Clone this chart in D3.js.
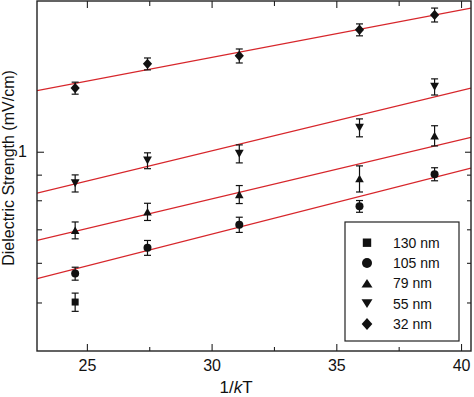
<!DOCTYPE html>
<html>
<head>
<meta charset="utf-8">
<script src="https://cdn.jsdelivr.net/npm/d3@7"></script>
<style>
  body { margin: 0; background: #fff; }
  svg { display: block; }
  text { font-family: Arial, "Liberation Sans", sans-serif; fill: #111; }
</style>
</head>
<body>
<script>
// 1/kT for 473, 423, 373, 323, 298 K
const xVals = [24.53, 27.43, 31.11, 35.93, 38.94];

// dielectric strength (mV/cm), null = not measured
const nm130 = [0.501, null, null, null, null];
const nm105 = [0.571, 0.643, 0.715, 0.778, 0.902];
const nm79  = [0.697, 0.759, 0.822, 0.884, 1.077];
const nm55  = [0.865, 0.960, 0.991, 1.117, 1.348];
const nm32  = [1.340, 1.498, 1.554, 1.752, 1.876];

// error bars (same units)
const err130 = [0.021, null, null, null, null];
const err105 = [0.017, 0.022, 0.025, 0.021, 0.027];
const err79  = [0.027, 0.030, 0.034, 0.053, 0.050];
const err55  = [0.034, 0.035, 0.041, 0.046, 0.050];
const err32  = [0.037, 0.041, 0.050, 0.048, 0.060];

// Arrhenius fits: v = A * exp(B * x)
const fitA = [null, 0.285, 0.356, 0.436, 0.802];
const fitB = [null, 0.0292, 0.0272, 0.0278, 0.0218];

const labels = ["130 nm", "105 nm", "79 nm", "55 nm", "32 nm"];
const xTicks = [25, 30, 35, 40];
const xMinor = [27.5, 32.5, 37.5];
const yTicks = [1];
const yMinor = [0.5, 0.6, 0.7, 0.8, 0.9];

const width = 474, height = 397;
const margin = { top: 1, bottom: 46, left: 37, right: 3 };

const svg = d3.select("body").append("svg")
  .attr("width", width)
  .attr("height", height);

const xScale = d3.scaleLinear()
  .domain([23, 40.4])
  .range([margin.left, width - margin.right]);

const yScale = d3.scaleLog()
  .domain([0.4, 2])
  .range([height - margin.bottom, margin.top]);

// custom marker shapes (half width / half height in px)
function diamond(w, h) {
  return { draw(c) { c.moveTo(0, -h); c.lineTo(w, 0); c.lineTo(0, h); c.lineTo(-w, 0); c.closePath(); } };
}
function tri(w, h, down) {
  const s = down ? -1 : 1;
  return { draw(c) { c.moveTo(0, -h * s); c.lineTo(w, h * s); c.lineTo(-w, h * s); c.closePath(); } };
}
function square(a) {
  return { draw(c) { c.rect(-a, -a, 2 * a, 2 * a); } };
}
function circle(r) {
  return { draw(c) { c.moveTo(r, 0); c.arc(0, 0, r, 0, 2 * Math.PI); } };
}

const shapes = [square(3.5), circle(4), tri(4.3, 3.8, false), tri(4.4, 4, true), diamond(4.6, 5.2)];
const legendShapes = [square(4.2), circle(5), tri(5.5, 4.2, false), tri(5.5, 4.4, true), diamond(5.3, 6)];

const values = [nm130, nm105, nm79, nm55, nm32];
const errors = [err130, err105, err79, err55, err32];

// clip for the fit lines
svg.append("clipPath").attr("id", "plot")
  .append("rect")
  .attr("x", margin.left).attr("y", margin.top)
  .attr("width", width - margin.left - margin.right)
  .attr("height", height - margin.top - margin.bottom);

// fit lines
const line = d3.line().x(d => xScale(d[0])).y(d => yScale(d[1]));
fitA.forEach(function(A, i) {
  if (A === null) return;
  const pts = xScale.domain().map(x => [x, A * Math.exp(fitB[i] * x)]);
  svg.append("path")
    .attr("clip-path", "url(#plot)")
    .attr("d", line(pts))
    .attr("fill", "none")
    .attr("stroke", "#d7262b")
    .attr("stroke-width", 1.3);
});

// error bars and markers
values.forEach(function(vals, i) {
  const pts = xVals.map((x, j) => ({ x: x, v: vals[j], e: errors[i][j] })).filter(d => d.v !== null);
  const g = svg.append("g");
  pts.forEach(function(d) {
    const cx = xScale(d.x);
    const y1 = yScale(d.v + d.e), y2 = yScale(d.v - d.e);
    g.append("line").attr("x1", cx).attr("x2", cx).attr("y1", y1).attr("y2", y2);
    g.append("line").attr("x1", cx - 3.5).attr("x2", cx + 3.5).attr("y1", y1).attr("y2", y1);
    g.append("line").attr("x1", cx - 3.5).attr("x2", cx + 3.5).attr("y1", y2).attr("y2", y2);
  });
  g.selectAll("line").attr("stroke", "#111").attr("stroke-width", 1.2);
  g.selectAll("path")
    .data(pts)
    .enter()
    .append("path")
    .attr("transform", d => `translate(${xScale(d.x)},${yScale(d.v)})`)
    .attr("d", d3.symbol().type(shapes[i]))
    .attr("fill", "#111");
});

// axes (ticks pointing inward)
const bottom = height - margin.bottom;
const right = width - margin.right;

svg.append("g")
  .attr("transform", `translate(0,${bottom})`)
  .call(d3.axisBottom(xScale).tickValues(xTicks).tickSizeInner(-7).tickSizeOuter(0).tickPadding(9));
svg.append("g")
  .attr("transform", `translate(0,${bottom})`)
  .call(d3.axisBottom(xScale).tickValues(xMinor).tickSizeInner(-4).tickSizeOuter(0).tickFormat(""));
svg.append("g")
  .attr("transform", `translate(0,${margin.top})`)
  .call(d3.axisTop(xScale).tickValues(xTicks).tickSizeInner(-7).tickSizeOuter(0).tickFormat(""));
svg.append("g")
  .attr("transform", `translate(0,${margin.top})`)
  .call(d3.axisTop(xScale).tickValues(xMinor).tickSizeInner(-5).tickSizeOuter(0).tickFormat(""));

svg.append("g")
  .attr("transform", `translate(${margin.left},0)`)
  .call(d3.axisLeft(yScale).tickValues(yTicks).tickSizeInner(-7).tickSizeOuter(0).tickPadding(10).tickFormat(d3.format("d")));
svg.append("g")
  .attr("transform", `translate(${margin.left},0)`)
  .call(d3.axisLeft(yScale).tickValues(yMinor).tickSizeInner(-5).tickSizeOuter(0).tickFormat(""));
svg.append("g")
  .attr("transform", `translate(${right},0)`)
  .call(d3.axisRight(yScale).tickValues(yTicks).tickSizeInner(-6).tickSizeOuter(0).tickFormat(""));
svg.append("g")
  .attr("transform", `translate(${right},0)`)
  .call(d3.axisRight(yScale).tickValues(yMinor).tickSizeInner(-4).tickSizeOuter(0).tickFormat(""));

svg.selectAll(".domain").remove();
svg.selectAll(".tick line").attr("stroke", "#222").attr("stroke-width", 1.1);
svg.selectAll(".tick text").style("font-size", "16px").attr("fill", "#111");

// frame
svg.append("rect")
  .attr("x", margin.left).attr("y", margin.top)
  .attr("width", right - margin.left)
  .attr("height", bottom - margin.top)
  .attr("fill", "none")
  .attr("stroke", "#222")
  .attr("stroke-width", 1.4);

// axis titles
const xt = svg.append("text")
  .attr("x", 236).attr("y", 393)
  .style("text-anchor", "middle")
  .style("font-size", "17px");
xt.append("tspan").text("1/");
xt.append("tspan").style("font-style", "italic").text("k");
xt.append("tspan").text("T");

svg.append("text")
  .attr("transform", "translate(13.5,168)rotate(-90)")
  .style("text-anchor", "middle")
  .style("font-size", "16px")
  .text("Dielectric Strength (mV/cm)");

// legend
const legend = svg.append("g");
legend.append("rect")
  .attr("x", 345).attr("y", 222)
  .attr("width", 114).attr("height", 119)
  .attr("fill", "#fff")
  .attr("stroke", "#222")
  .attr("stroke-width", 1.2);

labels.forEach(function(lab, i) {
  const ly = 242.7 + i * 20.3;
  legend.append("path")
    .attr("transform", `translate(367,${ly})`)
    .attr("d", d3.symbol().type(legendShapes[i]))
    .attr("fill", "#111");
  legend.append("text")
    .attr("x", 393).attr("y", ly)
    .attr("dy", "0.36em")
    .style("font-size", "14px")
    .text(lab);
});
</script>
</body>
</html>
